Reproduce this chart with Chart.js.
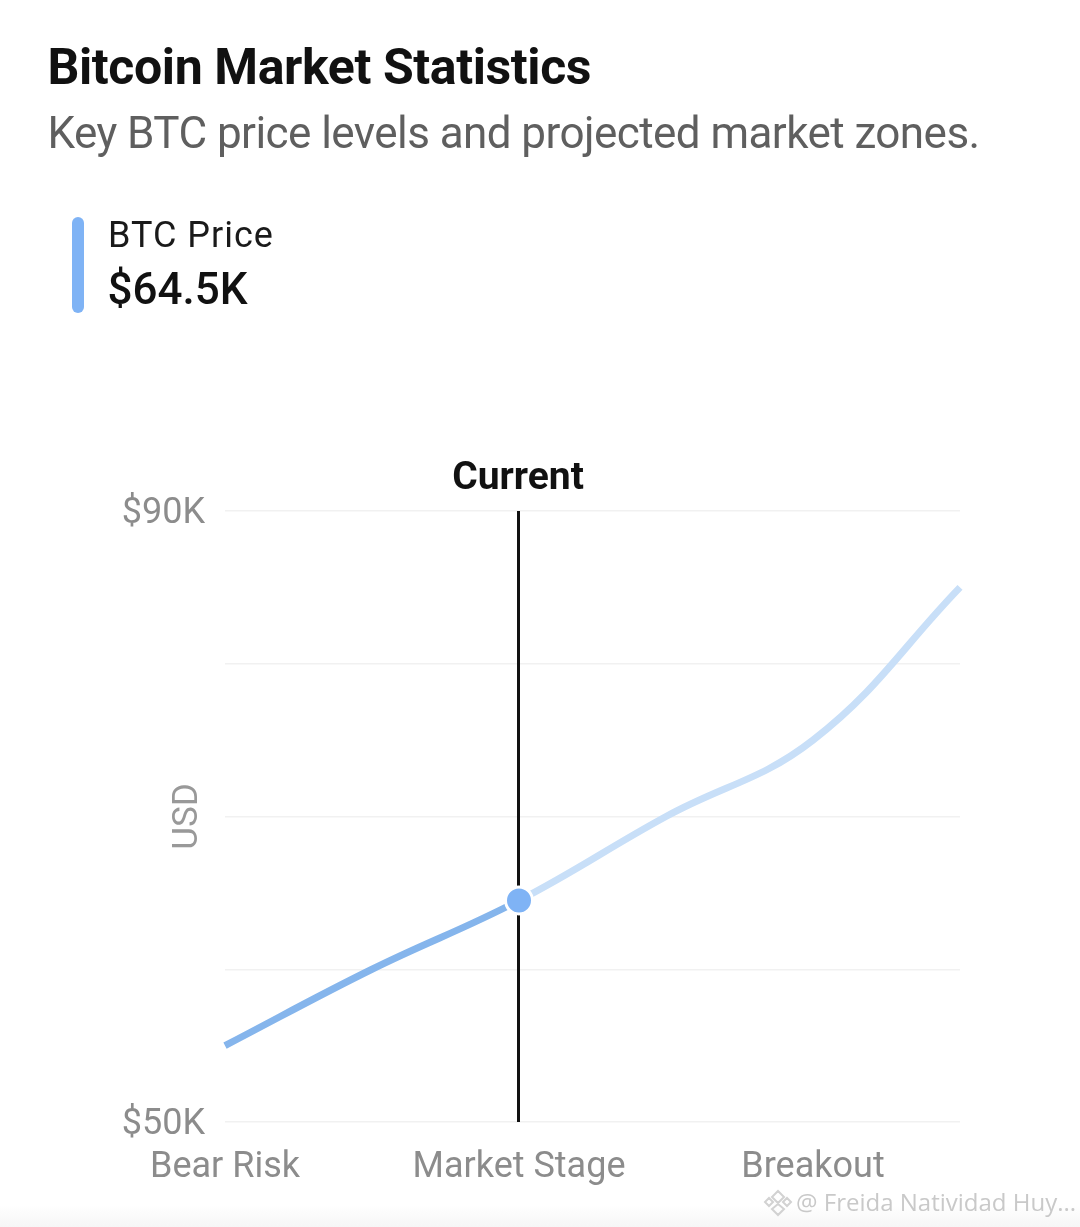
<!DOCTYPE html>
<html>
<head>
<meta charset="utf-8">
<script src="https://cdn.jsdelivr.net/npm/chart.js@4"></script>
<style>
html, body { margin: 0; padding: 0; background: #fff; }
body { width: 1080px; height: 1227px; position: relative; overflow: hidden; font-family: Roboto, sans-serif; }
canvas { position: absolute; left: 0; top: 0; }
.txt { position: absolute; white-space: nowrap; }
#title { left: 47.5px; top: 37px; font-size: 50px; line-height: 60px; font-weight: 700; color: #111; letter-spacing: -0.4px; }
#subtitle { left: 47.5px; top: 106px; font-size: 44px; line-height: 54px; color: #5f5f5f; letter-spacing: -0.56px; }
#bar { position: absolute; left: 72px; top: 217px; width: 12px; height: 96px; border-radius: 6px; background: #7fb3f5; }
#legendName { left: 108px; top: 214px; font-size: 36px; line-height: 42px; color: #1a1a1a; letter-spacing: 1px; }
#legendValue { left: 107.5px; top: 263px; font-size: 44px; line-height: 52px; font-weight: 500; color: #111; }
#shade { position: absolute; left: 0; top: 1205px; width: 1080px; height: 22px; background: linear-gradient(#fff, #f6f6f6); }
#mark { left: 796px; top: 1187px; font-size: 24px; line-height: 30px; color: #c9c9c9; font-family: "Open Sans", sans-serif; }
#icon { position: absolute; left: 763px; top: 1188px; }
</style>
</head>
<body>
<div id="shade"></div>
<canvas id="chart" width="1080" height="1227"></canvas>
<div class="txt" id="title">Bitcoin Market Statistics</div>
<div class="txt" id="subtitle">Key BTC price levels and projected market zones.</div>
<div id="bar"></div>
<div class="txt" id="legendName">BTC Price</div>
<div class="txt" id="legendValue">$64.5K</div>
<svg id="icon" width="30" height="30" viewBox="0 0 30 30" fill="none" stroke="#d2d2d2" stroke-width="2"><path d="M15 3l6 6-6 6-6-6zM6 10l4 4-4 4-4-4zM24 10l4 4-4 4-4-4zM15 16l6 5-6 6-6-6z"/></svg>
<div class="txt" id="mark">@ Freida Natividad Huy...</div>
<script>
const stages = ['Bear Risk', '', 'Market Stage', '', 'Breakout', '']
const btcPrice = [55, 60, 64.5, 70, 75, 85]
const currentIndex = 2
const currentLabel = 'Current'
const yLabels = { 50: '$50K', 90: '$90K' }

// Vertical marker under the line, with its label on top
const currentMarker = {
    id: 'currentMarker',
    beforeDatasetsDraw(chart) {
        const ctx = chart.ctx
        const x = chart.scales.x.getPixelForValue(currentIndex)
        const area = chart.chartArea
        ctx.save()
        ctx.strokeStyle = '#111'
        ctx.lineWidth = 3
        ctx.beginPath()
        ctx.moveTo(x - 0.5, area.top)
        ctx.lineTo(x - 0.5, area.bottom)
        ctx.stroke()
        ctx.fillStyle = '#111'
        ctx.font = '700 39px Roboto'
        ctx.textAlign = 'center'
        ctx.textBaseline = 'middle'
        ctx.fillText(currentLabel, x - 1, area.top - 32)
        ctx.restore()
    }
}

new Chart(document.getElementById('chart').getContext('2d'), {
    type: 'line',
    data: {
        labels: stages,
        datasets: [{
            label: 'BTC Price',
            data: btcPrice,
            borderWidth: 7,
            borderColor: '#85b5ec',
            tension: 0.4,
            segment: {
                borderColor: c => c.p0DataIndex >= currentIndex ? '#c8dff8' : '#85b5ec'
            },
            pointRadius: c => c.dataIndex === currentIndex ? 13.5 : 0,
            pointBackgroundColor: '#7fb3f5',
            pointBorderColor: '#fff',
            pointBorderWidth: 3
        }]
    },
    options: {
        responsive: false,
        animation: false,
        devicePixelRatio: 1,
        layout: { padding: { top: 511, right: 120, bottom: 0, left: 0 } },
        plugins: { legend: { display: false }, tooltip: { enabled: false } },
        scales: {
            x: {
                offset: false,
                grid: { display: false, drawTicks: false },
                border: { display: false },
                ticks: {
                    autoSkip: false,
                    maxRotation: 0,
                    padding: 24,
                    color: '#8c8c8c',
                    font: { family: 'Roboto', size: 36 }
                },
                afterFit: s => { s.height = 105 }
            },
            y: {
                min: 50,
                max: 90,
                grid: { color: '#f1f1f1', lineWidth: 1.5, drawTicks: false },
                border: { display: false },
                title: {
                    display: true,
                    text: 'USD',
                    color: '#999',
                    padding: { top: 167, bottom: 0 },
                    font: { family: 'Roboto', size: 35 }
                },
                ticks: {
                    stepSize: 10,
                    padding: 20,
                    color: '#8c8c8c',
                    // blank first line and a 6px line height push the text 3px down
                    font: { family: 'Roboto', size: 36, lineHeight: '6px' },
                    callback: v => yLabels[v] ? ['', yLabels[v]] : ''
                },
                afterFit: s => { s.width = 225 }
            }
        }
    },
    plugins: [currentMarker]
})
</script>
</body>
</html>
